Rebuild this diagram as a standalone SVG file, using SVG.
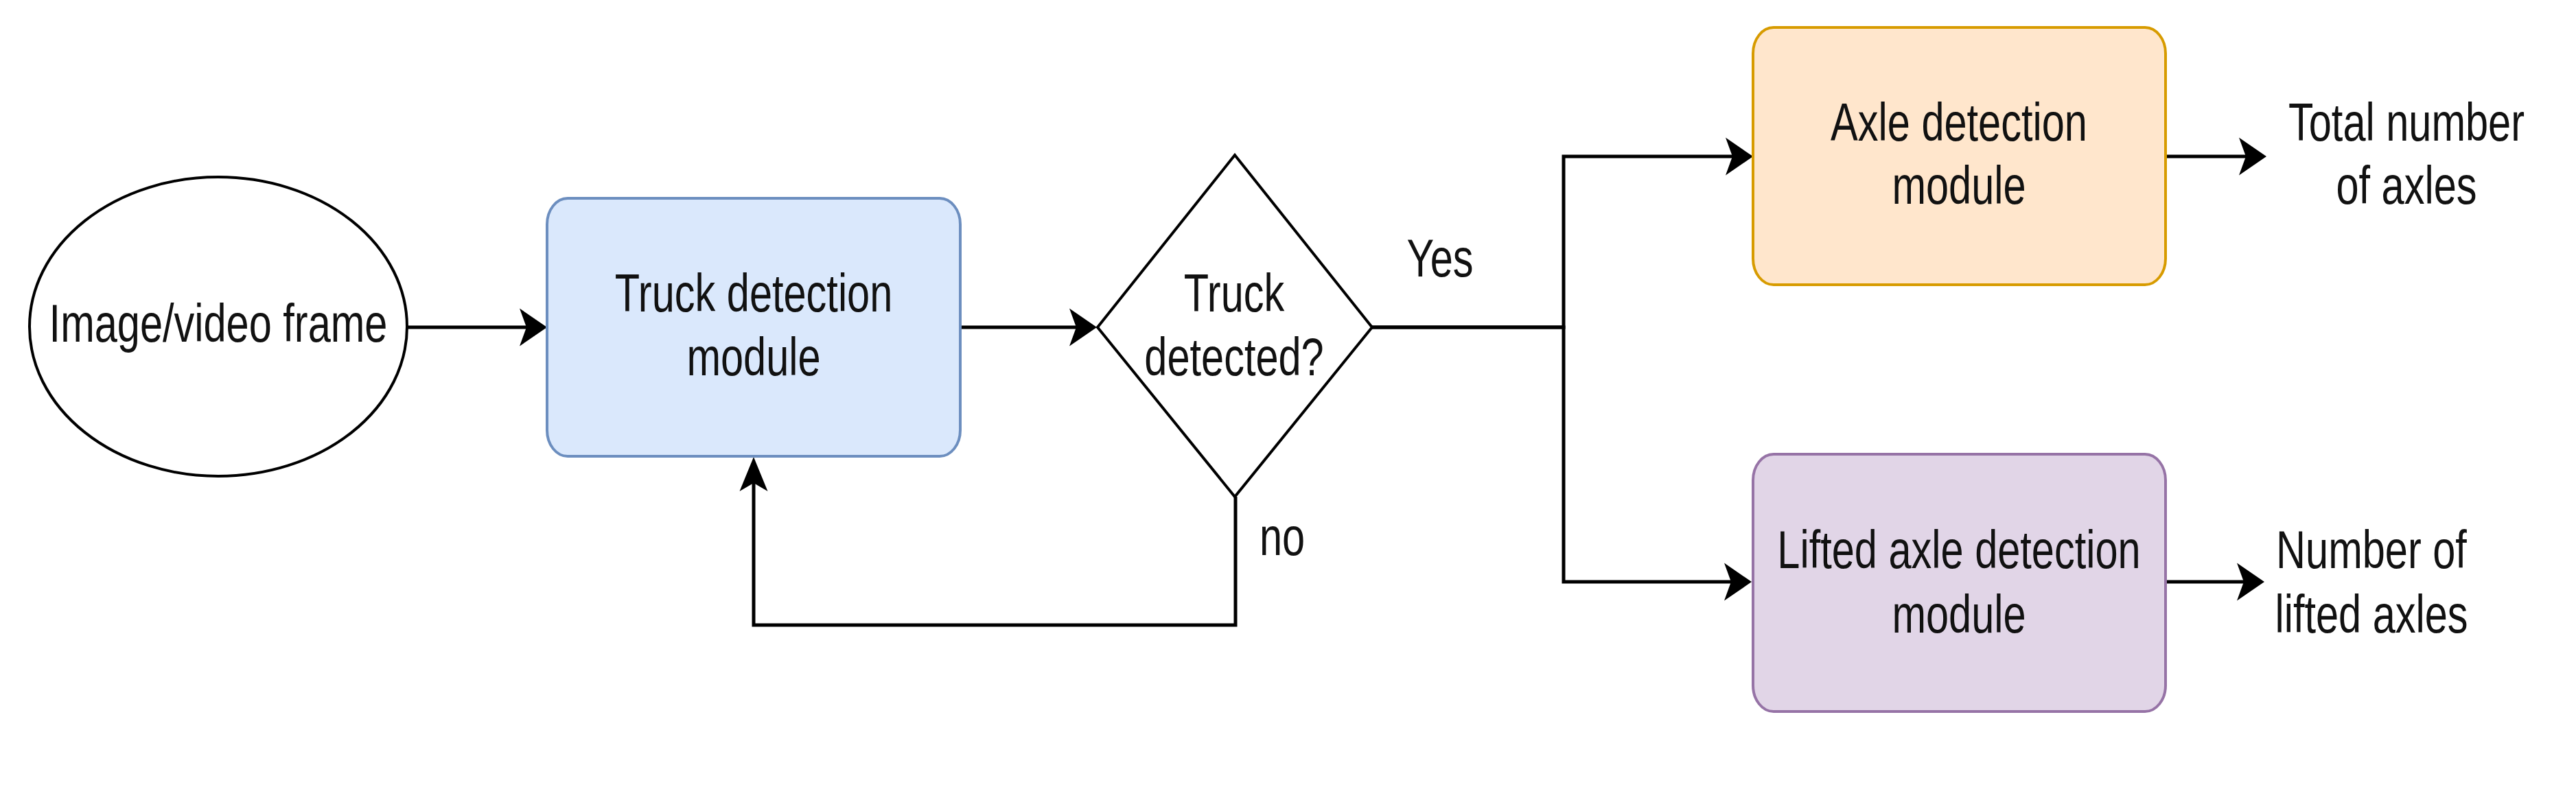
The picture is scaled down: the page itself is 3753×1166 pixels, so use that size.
<svg xmlns="http://www.w3.org/2000/svg" width="3753" height="1166" viewBox="0 0 3753 1166">
<style>
.t{font-family:"Liberation Sans",Arial,Helvetica,sans-serif;font-size:77px;fill:#111;text-anchor:middle}
.e{fill:none;stroke:#000;stroke-width:5;stroke-linejoin:miter}
.h{marker-end:url(#arrH)}
.v{marker-end:url(#arrV)}
</style>
<defs>
<marker id="arrH" markerUnits="userSpaceOnUse" markerWidth="42" markerHeight="56" refX="10" refY="27.5" orient="auto" overflow="visible">
<path d="M0,0 L40,27.5 L0,55 L10,27.5 Z" fill="#000"/>
</marker>
<marker id="arrV" markerUnits="userSpaceOnUse" markerWidth="52" markerHeight="42" refX="12" refY="20.5" orient="auto" overflow="visible">
<path d="M0,0 L50,20.5 L0,41 L12,20.5 Z" fill="#000"/>
</marker>
</defs>
<rect width="3753" height="1166" fill="#fff"/>
<g id="connectors">
<path class="e h" d="M594,477 H767"/>
<path class="e h" d="M1399,477 H1568"/>
<path class="e h" d="M1999,477 H2278 V228 H2524"/>
<path class="e h" d="M1999,477 H2278 V848 H2522"/>
<path class="e h" d="M3155,228 H3272"/>
<path class="e h" d="M3155,848 H3269"/>
<path class="e v" d="M1800,724 V911 H1098 V704"/>
<text class="t" transform="translate(2098,403) scale(0.773,1)">Yes</text>
<text class="t" transform="translate(1868,809) scale(0.773,1)">no</text>
</g>
<g id="image-frame">
<ellipse cx="318" cy="476" rx="275" ry="218" fill="#fff" stroke="#000" stroke-width="4"/>
<text class="t" transform="translate(318,498) scale(0.773,1)">Image/video frame</text>
</g>
<g id="truck-detection">
<rect x="797" y="289" width="602" height="376" rx="30" ry="38" fill="#dae8fc" stroke="#6c8ebf" stroke-width="4"/>
<text class="t" transform="translate(1098,454) scale(0.773,1)">Truck detection</text>
<text class="t" transform="translate(1098,547) scale(0.773,1)">module</text>
</g>
<g id="truck-detected">
<path d="M1799,226 L1999,477 L1799,724 L1599,477 Z" fill="#fff" stroke="#000" stroke-width="4"/>
<text class="t" transform="translate(1798,454) scale(0.773,1)">Truck</text>
<text class="t" transform="translate(1798,547) scale(0.773,1)">detected?</text>
</g>
<g id="axle-detection">
<rect x="2554" y="40" width="601" height="375" rx="30" ry="38" fill="#ffe6cc" stroke="#d79b00" stroke-width="4"/>
<text class="t" transform="translate(2854,205) scale(0.773,1)">Axle detection</text>
<text class="t" transform="translate(2854,297) scale(0.773,1)">module</text>
</g>
<g id="lifted-axle-detection">
<rect x="2554" y="662" width="601" height="375" rx="30" ry="38" fill="#e1d5e7" stroke="#9673a6" stroke-width="4"/>
<text class="t" transform="translate(2854,828) scale(0.773,1)">Lifted axle detection</text>
<text class="t" transform="translate(2854,922) scale(0.773,1)">module</text>
</g>
<g id="total-axles">
<text class="t" transform="translate(3506,205) scale(0.773,1)">Total number</text>
<text class="t" transform="translate(3506,297) scale(0.773,1)">of axles</text>
</g>
<g id="lifted-axles">
<text class="t" transform="translate(3455,828) scale(0.773,1)">Number of</text>
<text class="t" transform="translate(3455,922) scale(0.773,1)">lifted axles</text>
</g>
</svg>
